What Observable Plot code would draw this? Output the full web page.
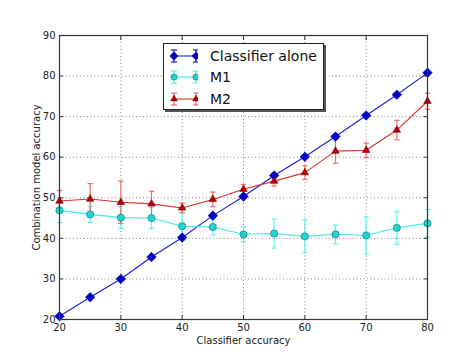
<!DOCTYPE html>
<html>
<head>
<meta charset="utf-8">
<script src="https://cdn.jsdelivr.net/npm/d3@7"></script>
<script src="https://cdn.jsdelivr.net/npm/@observablehq/plot@0.6"></script>
<style>
  html, body { margin: 0; padding: 0; background: #fff; }
  #wrap { position: relative; width: 474px; height: 355px; font-family: "DejaVu Sans", sans-serif; }
  #legend { position: absolute; left: 163px; top: 43px; width: 159px; height: 65px; background: #fff;
            border: 1.5px solid #222; box-shadow: 2px 2px 0 #555; }
  .row { position: absolute; left: 0; height: 20px; display: flex; align-items: center; }
  .row span { font-size: 14px; color: #111; margin-left: 12px; }
</style>
</head>
<body>
<div id="wrap"></div>
<script>
const xs = [20, 25, 30, 35, 40, 45, 50, 55, 60, 65, 70, 75, 80];
const classifierAlone = [20.8, 25.5, 30.0, 35.4, 40.2, 45.6, 50.3, 55.5, 60.1, 65.1, 70.3, 75.4, 80.8];
const m1 = [46.9, 45.9, 45.1, 45.0, 43.0, 42.8, 41.0, 41.2, 40.5, 41.0, 40.7, 42.6, 43.7];
const m1Err = [3.0, 2.0, 2.7, 2.6, 3.4, 2.0, 1.8, 3.6, 4.1, 2.3, 4.6, 4.1, 3.4];
const m2 = [49.2, 49.7, 48.9, 48.5, 47.5, 49.6, 52.1, 54.1, 56.2, 61.5, 61.7, 66.7, 73.8];
const m2Err = [2.6, 3.8, 5.2, 3.1, 1.2, 1.8, 1.2, 1.2, 1.7, 3.0, 1.8, 2.4, 2.0];
const seriesNames = ["Classifier alone", "M1", "M2"];
const xTicks = [20, 30, 40, 50, 60, 70, 80];
const yTicks = [20, 30, 40, 50, 60, 70, 80, 90];

const styles = {
  "Classifier alone": {line: "#1c1cd8", err: "#1c1cd8", fill: "#0000c8", stroke: "#0000a0", symbol: "diamond2", r: 4.3},
  "M1": {line: "#3ee8e8", err: "#60f0f0", fill: "#1fd5d5", stroke: "#116a6a", symbol: "circle", r: 3.6},
  "M2": {line: "#dd3030", err: "#e87070", fill: "#b00000", stroke: "#8a0000", symbol: "triangle", r: 2.8}
};

const rows = [];
xs.forEach((x, i) => {
  rows.push({series: "Classifier alone", x, y: classifierAlone[i], err: 0});
  rows.push({series: "M1", x, y: m1[i], err: m1Err[i]});
  rows.push({series: "M2", x, y: m2[i], err: m2Err[i]});
});

const capSymbol = {draw(ctx, size) { const w = Math.sqrt(size) / 2; ctx.moveTo(-w, 0); ctx.lineTo(w, 0); }};

const marks = [
  Plot.gridX(xTicks, {stroke: "#888", strokeOpacity: 1, strokeDasharray: "1,2.5"}),
  Plot.gridY(yTicks, {stroke: "#888", strokeOpacity: 1, strokeDasharray: "1,2.5"}),
];
for (const s of seriesNames) {
  const st = styles[s];
  const d = rows.filter(r => r.series === s);
  const e = d.filter(r => r.err > 0);
  marks.push(Plot.ruleX(e, {x: "x", y1: r => r.y - r.err, y2: r => r.y + r.err, stroke: st.err, strokeWidth: 1.2}));
  marks.push(Plot.dot(e, {x: "x", y: r => r.y + r.err, symbol: capSymbol, r: 3, stroke: st.err, strokeWidth: 1.2}));
  marks.push(Plot.dot(e, {x: "x", y: r => r.y - r.err, symbol: capSymbol, r: 3, stroke: st.err, strokeWidth: 1.2}));
  marks.push(Plot.line(d, {x: "x", y: "y", stroke: st.line, strokeWidth: 1.1}));
}
for (const s of seriesNames) {
  const st = styles[s];
  const d = rows.filter(r => r.series === s);
  marks.push(Plot.dot(d, {x: "x", y: "y", symbol: st.symbol, r: st.r, fill: st.fill, stroke: st.stroke, strokeWidth: 0.6}));
}
marks.push(
  Plot.frame({stroke: "#333", strokeWidth: 1.2}),
  Plot.axisX(xTicks, {tickSize: 0, tickPadding: 4, label: "Classifier accuracy", labelAnchor: "center", labelArrow: "none", labelOffset: 24, fill: "#222"}),
  Plot.axisY(yTicks, {tickSize: 0, tickPadding: 4, label: "Combination model accuracy", labelAnchor: "center", labelArrow: "none", labelOffset: 27, fill: "#222"}),
  Plot.axisX(xTicks, {anchor: "bottom", tickSize: -4, tickFormat: () => "", label: null, stroke: "#333"}),
  Plot.axisX(xTicks, {anchor: "top", tickSize: -4, tickFormat: () => "", label: null, stroke: "#333"}),
  Plot.axisY(yTicks, {anchor: "left", tickSize: -4, tickFormat: () => "", label: null, stroke: "#333"}),
  Plot.axisY(yTicks, {anchor: "right", tickSize: -4, tickFormat: () => "", label: null, stroke: "#333"})
);

const chart = Plot.plot({
  width: 474, height: 355,
  marginLeft: 59, marginRight: 47, marginTop: 35, marginBottom: 36,
  x: {domain: [20, 80]},
  y: {domain: [20, 90]},
  style: {fontFamily: "DejaVu Sans, sans-serif", fontSize: "10px", color: "#222", background: "#fff"},
  marks
});
const wrap = document.getElementById("wrap");
wrap.appendChild(chart);

// legend
const legend = document.createElement("div");
legend.id = "legend";
const rowTops = [2, 23, 45];
seriesNames.forEach((s, i) => {
  const st = styles[s];
  const row = document.createElement("div");
  row.className = "row";
  row.style.top = rowTops[i] + "px";
  row.style.left = "6px";
  const svg = d3.create("svg").attr("width", 28).attr("height", 20);
  const xa = 4, xb = 26, yc = 10;
  for (const xx of [xa, xb]) {
    svg.append("line").attr("x1", xx).attr("x2", xx).attr("y1", yc - 6).attr("y2", yc + 6).attr("stroke", st.err).attr("stroke-width", 1.2);
    svg.append("line").attr("x1", xx - 3).attr("x2", xx + 3).attr("y1", yc - 6).attr("y2", yc - 6).attr("stroke", st.err).attr("stroke-width", 1.2);
    svg.append("line").attr("x1", xx - 3).attr("x2", xx + 3).attr("y1", yc + 6).attr("y2", yc + 6).attr("stroke", st.err).attr("stroke-width", 1.2);
  }
  svg.append("line").attr("x1", xa).attr("x2", xb).attr("y1", yc).attr("y2", yc).attr("stroke", st.line).attr("stroke-width", 1.1);
  const symMap = {diamond2: d3.symbolDiamond2, circle: d3.symbolCircle, triangle: d3.symbolTriangle};
  const sz = Math.PI * st.r * st.r * 0.75;
  for (const xx of [xa, xb]) {
    svg.append("path").attr("d", d3.symbol(symMap[st.symbol], sz)()).attr("transform", `translate(${xx},${yc})`)
      .attr("fill", st.fill).attr("stroke", st.stroke).attr("stroke-width", 0.6);
  }
  row.appendChild(svg.node());
  const t = document.createElement("span");
  t.textContent = s;
  row.appendChild(t);
  legend.appendChild(row);
});
wrap.appendChild(legend);
</script>
</body>
</html>
